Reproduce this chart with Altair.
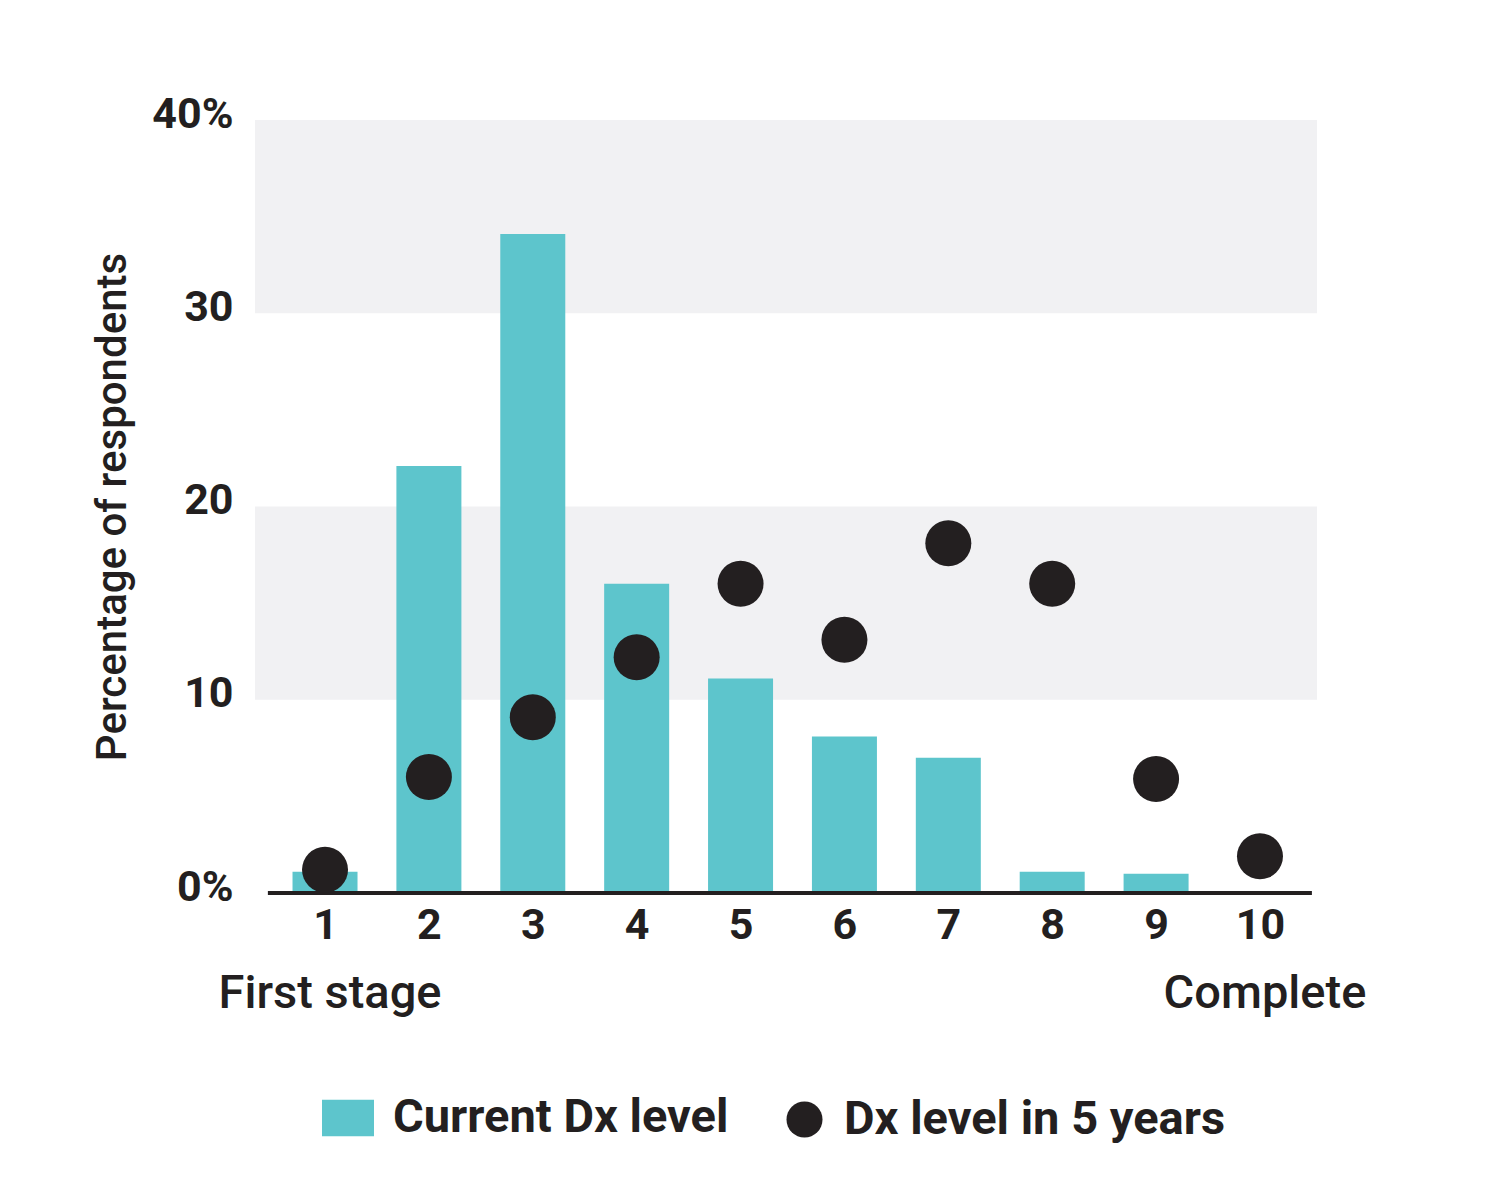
import altair as alt
import pandas as pd

levels = [1, 2, 3, 4, 5, 6, 7, 8, 9, 10]
current = [1.1, 22.1, 34.1, 16.0, 11.1, 8.1, 7.0, 1.1, 1.0, 0.1]
future = [1.2, 6.0, 9.1, 12.2, 16.0, 13.1, 18.1, 16.0, 5.9, 1.9]
series_names = ["Current Dx level", "Dx level in 5 years"]
band_lo = [10, 30]
band_hi = [20, 40]
end_labels = ["First stage", "Complete"]
end_pos = [1, 10]

TEAL = "#5DC5CC"
DARK = "#231F20"
BAND = "#F1F1F3"
FONT = "Roboto"

XDOM = [0.326, 10.549]
W, H = 1062, 773

bars_df = pd.DataFrame({"level": levels, "value": current, "series": series_names[0]})
pts_df = pd.DataFrame({"level": levels, "value": future, "series": series_names[1]})
bands_df = pd.DataFrame({"lo": band_lo, "hi": band_hi, "x0": XDOM[0], "x1": XDOM[1]})
ends_df = pd.DataFrame({"label": end_labels, "level": end_pos})
axis_df = pd.DataFrame({"x0": [0.45], "x1": [10.5], "y": [0]})

xscale = alt.Scale(domain=XDOM, nice=False, zero=False, padding=0)
yscale = alt.Scale(domain=[0, 40], nice=False)

x_axis = alt.Axis(
    values=levels, format="d", title=None, grid=False, ticks=False, domain=False,
    labelFont=FONT, labelFontSize=43, labelFontWeight="bold", labelColor=DARK,
    labelPadding=11, labelFlush=False,
)
y_axis = alt.Axis(
    values=[0, 10, 20, 30, 40], title="Percentage of respondents", grid=False,
    ticks=False, domain=False,
    labelExpr="(datum.value == 0 || datum.value == 40) ? datum.value + '%' : datum.value",
    labelFont=FONT, labelFontSize=43, labelFontWeight="bold", labelColor=DARK,
    labelPadding=22, labelOffset=-6, labelBaseline="middle",
    titleFont=FONT, titleFontSize=42, titleFontWeight=500, titleColor=DARK,
    titlePadding=17,
)

bands = alt.Chart(bands_df).mark_rect(color=BAND).encode(
    x=alt.X("x0:Q", scale=xscale, axis=x_axis),
    x2="x1:Q",
    y=alt.Y("lo:Q", scale=yscale, axis=y_axis),
    y2="hi:Q",
)

legend_common = dict(
    title=None, orient="none", direction="horizontal",
    labelFont=FONT, labelFontSize=47, labelFontWeight="bold", labelColor=DARK,
    labelLimit=0, padding=0, symbolOpacity=1, symbolStrokeWidth=0, labelBaseline="middle",
)

bars = alt.Chart(bars_df).mark_bar(size=65).encode(
    x=alt.X("level:Q", scale=xscale),
    y=alt.Y("value:Q", scale=yscale),
    color=alt.Color(
        "series:N",
        scale=alt.Scale(domain=[series_names[0]], range=[TEAL]),
        legend=alt.Legend(
            legendX=67, legendY=972, symbolType="M-1,-0.7H1V0.7H-1Z", symbolSize=2704,
            labelOffset=19, symbolFillColor=TEAL, **legend_common
        ),
    ),
)

axis_line = alt.Chart(axis_df).mark_rule(color=DARK, strokeWidth=4).encode(
    x=alt.X("x0:Q", scale=xscale), x2="x1:Q", y=alt.Y("y:Q", scale=yscale)
)

pts = alt.Chart(pts_df).mark_point(filled=True, size=2116, opacity=1, color=DARK).encode(
    x=alt.X("level:Q", scale=xscale),
    y=alt.Y("value:Q", scale=yscale),
    shape=alt.Shape(
        "series:N",
        scale=alt.Scale(domain=[series_names[1]], range=["circle"]),
        legend=alt.Legend(
            legendX=526, legendY=976, symbolSize=1296, labelOffset=16,
            symbolFillColor=DARK, **legend_common
        ),
    ),
)

ends = alt.Chart(ends_df).mark_text(
    font=FONT, fontSize=47, fontWeight=500, color=DARK, align="center", baseline="alphabetic", dx=5
).encode(
    x=alt.X("level:Q", scale=xscale),
    y=alt.value(888),
    text="label:N",
)

chart = alt.layer(bands, bars, axis_line, pts, ends).properties(
    width=W, height=H,
    background="white",
    autosize=alt.AutoSizeParams(type="none"),
    padding={"left": 247, "top": 112, "right": 170, "bottom": 300},
).configure_view(stroke=None)

chart.save("out.html", embed_options={"renderer": "svg", "actions": False})
